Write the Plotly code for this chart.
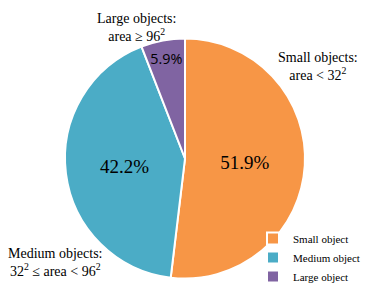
import plotly.graph_objects as go

labels = ["Small object", "Medium object", "Large object"]
values = [51.9, 42.2, 5.9]
colors = ["#F79646", "#4BACC6", "#8064A2"]

W, H = 370, 287
serif = "Liberation Serif, Times New Roman, serif"
sans = "Open Sans, Liberation Sans, sans-serif"
fig = go.Figure(go.Pie(
    labels=labels, values=values, sort=False, direction="clockwise", rotation=0,
    marker=dict(colors=colors, line=dict(color="white", width=2)),
    texttemplate="%{value:.1f}%", textposition="inside", insidetextorientation="horizontal",
    textfont=dict(family=[serif, serif, sans], size=[19, 19, 18], color="black"),
    domain=dict(x=[65/W, 305/W], y=[8/H, 249/H]),
    showlegend=True,
))

ann = [
    (136, 27, "Large objects:<br>area ≥ 96<sup>2</sup>"),
    (318, 66, "Small objects:<br>area < 32<sup>2</sup>"),
    (55, 262, "Medium objects:<br>32<sup>2</sup> ≤ area < 96<sup>2</sup>"),
]
for x, y, t in ann:
    fig.add_annotation(x=x/W, y=1-y/H, xref="paper", yref="paper", text=t, showarrow=False,
                       font=dict(family=serif, size=14, color="black"), align="center",
                       xanchor="center", yanchor="middle")

fig.update_layout(
    width=W, height=H, margin=dict(l=0, r=0, t=0, b=0, autoexpand=False),
    paper_bgcolor="white", plot_bgcolor="white",
    legend=dict(x=253/W, y=1-224/H, xanchor="left", yanchor="top",
                font=dict(family=serif, size=11, color="black"),
                itemwidth=30, tracegroupgap=0, bgcolor="rgba(0,0,0,0)"),
)
fig.write_html("out.html")
